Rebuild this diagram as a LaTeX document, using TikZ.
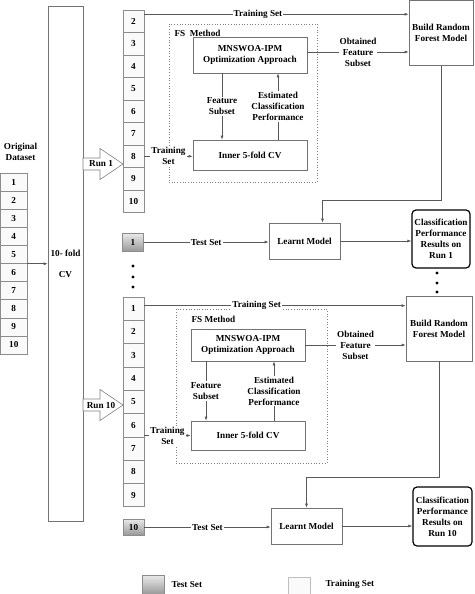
\documentclass[tikz,border=0pt]{standalone}
\usepackage{fontspec}
\setmainfont{Liberation Serif}
\usetikzlibrary{arrows.meta}
\tikzset{
	box/.style={draw=black!55, line width=0.6pt, fill=white, align=center, inner sep=1pt},
	fsbox/.style={draw=black!50, line width=0.7pt, dotted},
	cell/.style={draw=black!45, line width=0.5pt, fill=black!2, minimum width=21pt, minimum height=#1, inner sep=0pt},
	testcell/.style={draw=black!45, line width=0.5pt, top color=black!8, bottom color=black!40, minimum width=21pt, inner sep=0pt},
	result/.style={draw=black, line width=1.2pt, rounded corners=4pt, fill=white, align=center, inner sep=1pt},
	conn/.style={draw=black!65, line width=0.6pt, -{Latex[length=4pt, width=3pt]}},
	lbl/.style={fill=white, align=center, inner sep=1pt},
	plain/.style={align=center}
}
\def\runarrow(#1,#2)#3#4{\draw[line width=0.6pt, color=black!50, fill=white] (#1,#2) -- +(-23,-15.5) -- +(-23,-6) -- +(-40,-6) -- +(-40,6) -- +(-23,6) -- +(-23,15.5) -- cycle; \node (#3) at (#1-22,#2) {#4};}

\begin{document}
\begin{tikzpicture}[x=1pt, y=-1pt, font=\fontsize{9.2}{11}\selectfont\bfseries]
		%%%%% START %%%%%
		\useasboundingbox (0,0) rectangle (474,594);
		
		% original dataset
		\node[plain] (orig) at (20.5,152) {Original\\Dataset};
		\foreach \i in {1,...,10}
			\node[cell=18.1pt, minimum width=26.5pt] (d\i) at (13.75, 163.95+18.1*\i) {\i};
		
		% 10-fold cv
		\node[box, minimum width=35pt, minimum height=515pt] (cv) at (65.5,263.5) {10- fold\\[10pt]CV};
		\draw[conn] (d5.south east) -- (d5.south east -| cv.west);
		
		% folds of run 1 and run 10
		\foreach \i [count=\k] in {2,...,10}
			\node[cell=22.5pt] (a\i) at (133.5, -1.25+22.5*\k) {\i};
		\foreach \i in {1,...,9}
			\node[cell=23.3pt] (b\i) at (133.5, 285.35+23.3*\i) {\i};
		\node[testcell, minimum height=18pt] (testA) at (133,242) {1};
		\node[testcell, minimum height=16pt] (testB) at (133.5,527) {10};
		
		\runarrow(123,164){runA}{Run 1}
		\runarrow(123,405){runB}{Run 10}
		
		\foreach \y in {266,277,287} \fill (133,\y) circle (1.6);
		\foreach \y in {273,283,292} \fill (437,\y) circle (1.6);
		
		% run 1
		\node[fsbox, minimum width=148pt, minimum height=158pt] (fsA) at (243,103) {};
		\node[anchor=west] (fsAlbl) at (171,33) {FS\ \ Method};
		\node[box, minimum width=114pt, minimum height=36pt] (mnA) at (250,55) {MNSWOA-IPM\\Optimization Approach};
		\node[box, minimum width=114pt, minimum height=30pt] (innerA) at (250,155) {Inner 5-fold CV};
		\node[box, minimum width=64pt, minimum height=65pt] (brfA) at (441,33) {Build Random\\Forest Model};
		\node[box, minimum width=71pt, minimum height=36pt] (learnA) at (304.5,241) {Learnt Model};
		\node[result, minimum width=58pt, minimum height=58pt] (resA) at (441,239) {Classification\\Performance\\Results on\\Run 1};
		
		\draw[conn] ([yshift=7pt]a2.east) -- ([yshift=7pt]a2.east -| brfA.west) node[lbl, pos=0.43] {Training Set};
		\draw[conn] ([xshift=-28pt]mnA.south) -- ([xshift=-28pt]innerA.north) node[lbl, midway] {Feature\\Subset};
		\draw[conn] ([xshift=28pt]innerA.north) -- ([xshift=28pt]mnA.south) node[lbl, midway] {Estimated\\Classification\\Performance};
		\draw[conn] (a8.east) -- (a8.east -| innerA.west) node[lbl, midway] {Training\\Set};
		\draw[conn] ([yshift=3pt]mnA.east) -- ([yshift=3pt]mnA.east -| brfA.west) node[lbl, midway] {Obtained\\Feature\\Subset};
		\coordinate (bendA) at (441,200);
		\draw[conn] (brfA.south) -- (bendA) -| ([xshift=18pt]learnA.north);
		\draw[conn] (testA.east) -- (testA.east -| learnA.west) node[lbl, midway] {Test Set};
		\draw[conn] (learnA.east) -- (learnA.east -| resA.west);
		
		% run 10
		\node[fsbox, minimum width=151pt, minimum height=154pt] (fsB) at (251.5,386) {};
		\node[anchor=west] (fsBlbl) at (188,319) {FS Method};
		\node[box, minimum width=114pt, minimum height=32pt] (mnB) at (248,345) {MNSWOA-IPM\\Optimization Approach};
		\node[box, minimum width=114pt, minimum height=29pt] (innerB) at (248,435.5) {Inner 5-fold CV};
		\node[box, minimum width=66pt, minimum height=65pt] (brfB) at (439,328.5) {Build Random\\Forest Model};
		\node[box, minimum width=71pt, minimum height=36pt] (learnB) at (306.5,526) {Learnt Model};
		\node[result, minimum width=59pt, minimum height=59pt] (resB) at (442.5,516.5) {Classification\\Performance\\Results on\\Run 10};
		
		\draw[conn] ([yshift=3pt]b1.east) -- ([yshift=3pt]b1.east -| brfB.west) node[lbl, pos=0.43] {Training Set};
		\draw[conn] ([xshift=-42pt]mnB.south) -- ([xshift=-42pt]innerB.north) node[lbl, midway] {Feature\\Subset};
		\draw[conn] ([xshift=26pt]innerB.north) -- ([xshift=26pt]mnB.south) node[lbl, midway] {Estimated\\Classification\\Performance};
		\draw[conn] (innerB.west -| b6.east) -- (innerB.west) node[lbl, midway] {Training\\Set};
		\draw[conn] (mnB.east) -- (mnB.east -| brfB.west) node[lbl, midway] {Obtained\\Feature\\Subset};
		\coordinate (bendB) at (439,477);
		\draw[conn] (brfB.south) -- (bendB) -| (learnB.north);
		\draw[conn] (testB.east) -- (testB.east -| learnB.west) node[lbl, midway] {Test Set};
		\draw[conn] (learnB.east) -- (learnB.east -| resB.west);
		
		% legend
		\node[testcell, minimum width=22pt, minimum height=19pt] (legTest) at (153,584.5) {};
		\node[anchor=west] (legTestTxt) at (168,584) {Test Set};
		\node[cell=17pt, minimum width=22pt, draw=black!25] (legTrain) at (299,585.5) {};
		\node[anchor=west] (legTrainTxt) at (322,584) {Training Set};
		
		%%%%% END %%%%%
\end{tikzpicture}
\end{document}
